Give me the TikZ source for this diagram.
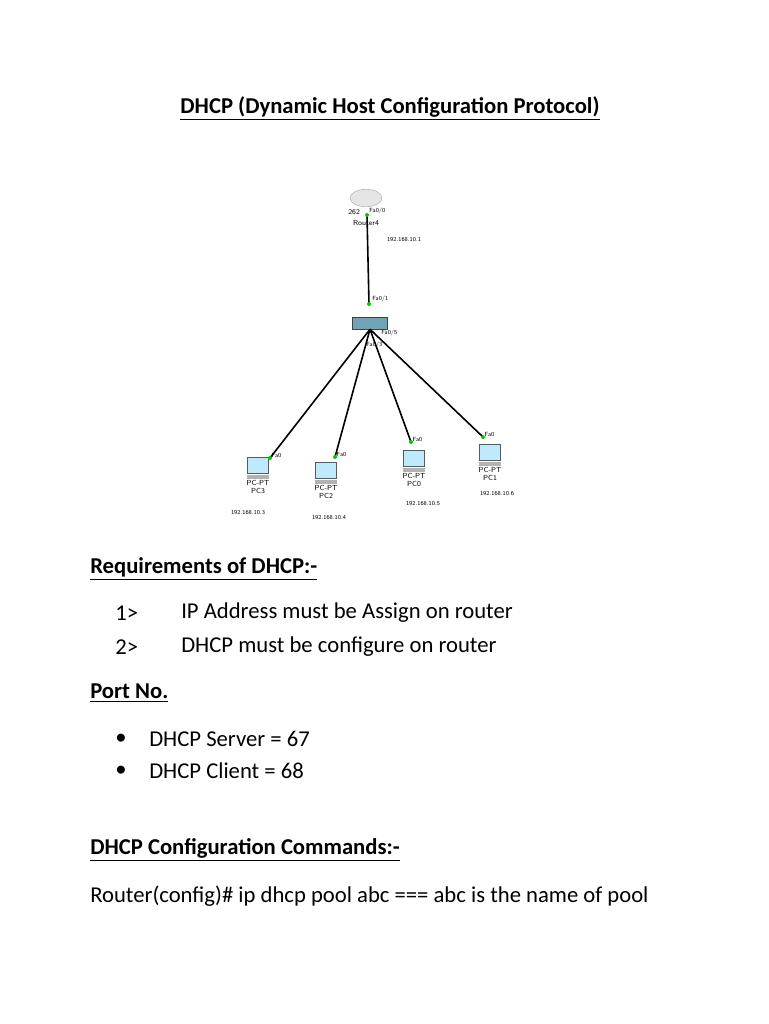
\documentclass[tikz,border=0pt]{standalone}
\usepackage{fontspec}
\setmainfont{Carlito}
\usetikzlibrary{positioning, shapes.geometric}
\tikzset{
  body/.style={anchor=west, font=\fontsize{17}{20}\selectfont, inner sep=0pt},
  head/.style={body, font=\fontsize{17}{20}\selectfont\bfseries},
  tiny/.style={font=\fontsize{4.5}{5}\selectfont\sffamily, inner sep=0pt},
  small/.style={font=\fontsize{5.5}{6}\selectfont\sffamily, inner sep=0pt},
  port/.style={circle, fill=green!80!black, inner sep=0pt, minimum size=3pt},
  link/.style={line width=1.2pt, black},
  pc/.style={draw=gray!70!black, fill=cyan!25, minimum width=16pt, minimum height=12pt, inner sep=0pt},
}
\begin{document}
\begin{tikzpicture}[x=0.75pt, y=-0.75pt]
\useasboundingbox (0,0) rectangle (768,1024);
\fill[white] (0,0) rectangle (768,1024);

\node[font=\fontsize{17}{20}\selectfont\bfseries, inner sep=0pt] (title) at (390,108) {\underline{DHCP (Dynamic Host Configuration Protocol)}};

% router and switch
\node[ellipse, draw=gray!60, fill=gray!20, minimum width=24pt, minimum height=13pt, inner sep=0pt] (R) at (366,198) {};
\node[draw=gray!50!black, fill=cyan!40!gray, minimum width=26pt, minimum height=9pt, inner sep=0pt] (S) at (370,323) {};
\coordinate (Rp) at (367,215);
\coordinate (Sp) at (369,304);
\draw[link] (Rp) -- (Sp);
\node[port] at (Rp) {};
\node[port] at (Sp) {};
\node[small, anchor=west] (r262) at (348,212) {262};
\node[tiny, anchor=west] (rfa) at (369,211) {Fa0/0};
\node[small] (rname) at (366,223) {Router4};
\node[tiny] (rip) at (404,240) {192.168.10.1};
\node[tiny, anchor=west] (sfa) at (372,299) {Fa0/1};
\node[tiny, anchor=west] (sfa5) at (381,333) {Fa0/5};
\node[tiny, anchor=west] (sfa3) at (366,345) {Fa0/3};

% PCs
\foreach \n/\x/\y/\px/\py/\ip/\ix/\iy in {PC3/258/465/270/458/192.168.10.3/248/513, PC2/326/470/335/457/192.168.10.4/329/518, PC0/414/458/411/442/192.168.10.5/423/504, PC1/490/452/483/437/192.168.10.6/497/494}{
  \node[pc] (\n) at (\x,\y) {};
  \fill[gray!60] ([yshift=-1pt]\n.south west) rectangle ([yshift=-4pt]\n.south east);
  \coordinate (\n-p) at (\px,\py);
  \draw[link] (S.south) -- (\n-p);
  \node[port] at (\n-p) {};
  \node[tiny, anchor=south west] at ([xshift=1pt]\n-p) {Fa0};
  \node[small, below=5pt of \n] (\n-t) {PC-PT};
  \node[small, below=1.5pt of \n-t] {\n};
  \node[tiny] at (\ix,\iy) {\ip};
}

% text
\node[head] (req) at (90,569) {\underline{Requirements of DHCP:-}};
\node[body] (n1) at (115,613) {1>};
\node[body] (t1) at (181,613) {IP Address must be Assign on router};
\node[body] (n2) at (115,647) {2>};
\node[body] (t2) at (181,647) {DHCP must be configure on router};
\node[head] (port) at (90,693) {\underline{Port No.}};
\node[body] (b1) at (115,739) {\textbullet};
\node[body] (s1) at (149,739) {DHCP Server = 67};
\node[body] (b2) at (115,771) {\textbullet};
\node[body] (s2) at (149,771) {DHCP Client = 68};
\node[head] (cmd) at (90,850) {\underline{DHCP Configuration Commands:-}};
\node[body] (c1) at (90,896) {Router(config)\# ip dhcp pool abc === abc is the name of pool};
\end{tikzpicture}
\end{document}
